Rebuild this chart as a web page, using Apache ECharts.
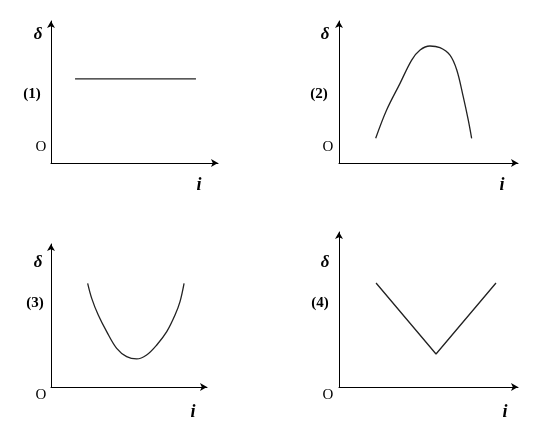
<!DOCTYPE html>
<html><head><meta charset="utf-8">
<script src="https://cdn.jsdelivr.net/npm/echarts@6/dist/echarts.min.js"></script>
<style>html,body{margin:0;padding:0;background:#fff}#c{width:540px;height:430px}</style>
</head><body><div id="c"></div>
<script>
// Data (arbitrary units, axes 0..10)
const panelLabels = ['(1)', '(2)', '(3)', '(4)'];
const yAxisName = 'δ';
const xAxisName = 'i';
const originLabel = 'O';
const curve1 = [[1.44, 5.92], [8.68, 5.92]];
const curve2 = [[2.05,1.74],[2.66,3.73],[3.41,5.61],[4.06,7.25],[4.53,7.96],[5.08,8.24],[5.64,8.12],[6.2,7.6],[6.58,6.55],[6.94,4.67],[7.22,3.03],[7.41,1.74]];
const curve3 = [[2.35,7.25],[2.61,6.2],[3.03,5.03],[3.57,3.87],[4.21,2.7],[4.85,2.12],[5.49,1.96],[6.13,2.24],[6.78,2.94],[7.42,3.87],[7.95,5.03],[8.27,5.97],[8.53,7.25]];
const curve4 = [[2.07,6.71],[5.42,2.13],[8.77,6.71]];
const curves = [curve1, curve2, curve3, curve4];
const smoothness = [0, 0.35, 0.35, 0];

// Layout
const grids = [
  {left: 51, top: 21, width: 167, height: 142},
  {left: 339, top: 21, width: 179, height: 142},
  {left: 51, top: 244, width: 156, height: 143},
  {left: 339, top: 232, width: 179, height: 155}
];
const labelPos = [
  {d:[38,35], p:[32,94], o:[41,147], i:[199,185]},
  {d:[325,35], p:[319,94], o:[328,147], i:[502,185]},
  {d:[38,263], p:[35,303], o:[41,395], i:[193,412]},
  {d:[325,263], p:[320,303], o:[328,395], i:[505,412]}
];

const serif = '"Liberation Serif", "DejaVu Serif", serif';
const axisLine = {show: true, onZero: false, lineStyle: {color: '#000', width: 1}, symbol: ['none', 'arrow'], symbolSize: [6, 7]};
const axisCommon = {type: 'value', min: 0, max: 10, axisLine, axisTick: {show: false}, axisLabel: {show: false}, splitLine: {show: false}};

const graphic = [];
labelPos.forEach((lp, k) => {
  const t = (pos, text, font, style) => graphic.push({type: 'text', x: pos[0], y: pos[1],
    style: Object.assign({text, font, fill: '#000', align: 'center', verticalAlign: 'middle'}, style || {})});
  t(lp.d, yAxisName, 'italic bold 17px ' + serif);
  t(lp.p, panelLabels[k], 'bold 15px ' + serif);
  t(lp.o, originLabel, '15px ' + serif);
  t(lp.i, xAxisName, 'italic bold 18px ' + serif);
});

const option = {
  animation: false,
  backgroundColor: '#fff',
  grid: grids,
  xAxis: grids.map((g, k) => Object.assign({gridIndex: k}, axisCommon)),
  yAxis: grids.map((g, k) => Object.assign({gridIndex: k}, axisCommon)),
  series: curves.map((c, k) => ({
    type: 'line', xAxisIndex: k, yAxisIndex: k, data: c, smooth: smoothness[k],
    showSymbol: false, symbol: 'none', lineStyle: {color: '#222', width: 1.3}, silent: true
  })),
  graphic
};
const chart = echarts.init(document.getElementById('c'), null, {renderer: 'canvas'});
chart.setOption(option);
</script></body></html>
